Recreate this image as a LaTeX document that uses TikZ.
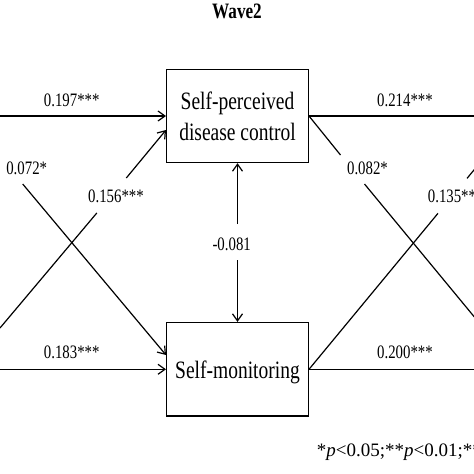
\documentclass[tikz,border=0pt]{standalone}
\usepackage{fontspec}
\setmainfont{Liberation Serif}[FakeStretch=0.78]
\newfontfamily\plainserif{Liberation Serif}
\usetikzlibrary{arrows.meta,calc}
\begin{document}
\begin{tikzpicture}[x=1pt,y=-1pt,
  box/.style={draw,line width=1.4pt,minimum width=141.6pt,minimum height=93pt,inner sep=0pt,align=center,font=\fontsize{25}{31}\selectfont},
  conn/.style={line width=1.2pt},
  arr/.style={conn,-{Straight Barb[length=7pt,width=10pt,line width=1.2pt]}},
  lab/.style={inner sep=0pt,font=\fontsize{19}{22}\selectfont}]
\useasboundingbox (0,0) rectangle (474,474);
\clip (0,0) rectangle (474,474);

\node[font=\bfseries\fontsize{22}{26}\selectfont,anchor=base,inner sep=0pt] (title) at (237,18) {Wave2};

\node[box] (top) at (237.5,116) {Self-perceived\\disease control};
\node[box,minimum height=93.5pt,text depth=0pt] (bot) at (237.5,369.3) {Self-monitoring};

\coordinate (a0) at (-10,116);
\coordinate (b0) at (0,328);
\coordinate (b1) at (96.8,213);
\coordinate (b2) at (126.3,178);
\coordinate (c0) at (22.7,184);
\coordinate (d1) at (237.5,224);
\coordinate (d2) at (237.5,260);
\coordinate (e0) at (-10,369.3);
\coordinate (f1) at (480,116);
\coordinate (g1) at (340.5,155);
\coordinate (g2) at (364.5,184);
\coordinate (g3) at (480,323.8);
\coordinate (h1) at (480,369.3);
\coordinate (i1) at (438,213.3);
\coordinate (i2) at (467,178.4);
\coordinate (i3) at (480,162.7);

\draw[arr] (a0) -- (top.west);
\draw[conn] (b0) -- (b1);
\draw[arr] (b2) -- ([yshift=-14pt]top.west);
\draw[arr] (c0) -- ([yshift=14.3pt]bot.west);
\draw[arr] (d1) -- (top.south);
\draw[arr] (d2) -- (bot.north);
\draw[arr] (e0) -- (bot.west);
\draw[conn] (top.east) -- (f1);
\draw[conn] (top.east) -- (g1);
\draw[conn] (g2) -- (g3);
\draw[conn] (bot.east) -- (h1);
\draw[conn] (bot.east) -- (i1);
\draw[conn] (i2) -- (i3);

\node[lab] (l197) at (71.7,100.5) {0.197***};
\node[lab] (l214) at (405,100.5) {0.214***};
\node[lab] (l072) at (26.7,168) {0.072*};
\node[lab] (l156) at (116,196) {0.156***};
\node[lab] (l082) at (367.5,168) {0.082*};
\node[lab,anchor=west] (l135) at (427.7,196) {0.135***};
\node[lab] (l081) at (231.7,244) {-0.081};
\node[lab] (l183) at (71.7,352) {0.183***};
\node[lab] (l200) at (405,352) {0.200***};

\node[inner sep=0pt,anchor=base west,font=\plainserif\fontsize{19}{22}\selectfont] (note) at (316.7,456.7) {*\textit{p}<0.05;**\textit{p}<0.01;***\textit{p}<0.001};
\end{tikzpicture}
\end{document}
